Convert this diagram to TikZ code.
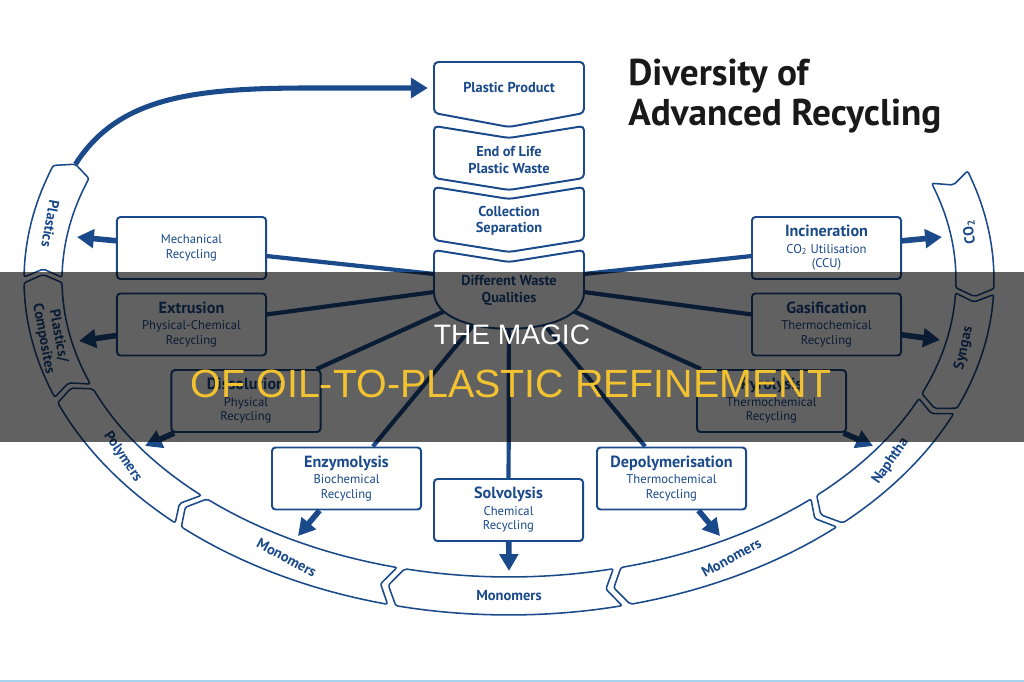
\documentclass[tikz,border=0pt]{standalone}
\usepackage{fontspec}
\setmainfont{PT Sans}
\newfontfamily\bannerfont{Liberation Sans}
\usetikzlibrary{arrows.meta}
\definecolor{recblue}{HTML}{1A4A8A}
\definecolor{bannergold}{HTML}{F2C230}
\definecolor{edgeblue}{HTML}{A8D3EE}
\newcommand{\proctitle}[1]{{\fontsize{11.5}{13}\selectfont\bfseries #1}\\[1pt]}

\begin{document}
\begin{tikzpicture}[x=0.025cm, y=-0.025cm,
    procbox/.style={draw=recblue, line width=1.4pt, fill=white, rounded corners=2.5pt,
      minimum width=3.725cm, minimum height=1.55cm, align=center, text=recblue,
      inner sep=1pt, font=\fontsize{9}{10.5}\selectfont},
    chev/.style={draw=recblue, line width=1.4pt, fill=white, rounded corners=3pt},
    chevtext/.style={text=recblue, align=center, minimum width=3.75cm, inner sep=0pt,
      font=\fontsize{10.2}{11.6}\selectfont\bfseries},
    ringseg/.style={draw=recblue, line width=1.1pt, fill=white, rounded corners=1.5pt},
    ringlabel/.style={text=recblue, align=center, inner sep=0pt,
      font=\fontsize{10.3}{10.8}\selectfont\bfseries},
    link/.style={recblue, line width=3pt},
    outarrow/.style={recblue, line width=4pt, -{Triangle[length=12pt,width=13pt]}},
]
    \useasboundingbox (0,0) rectangle (1024,682);

    % Title
    \node[anchor=north west, align=left, inner sep=0pt, text=black!90,
      font=\fontsize{26.5}{28}\selectfont\bfseries] (title) at (628,59)
      {Diversity of\\Advanced Recycling};

    % Recycling routes
    \node[procbox] (mech) at (191.5,248) {Mechanical\\Recycling};
    \node[procbox] (extr) at (191.5,324.5) {\proctitle{Extrusion}Physical-Chemical\\Recycling};
    \node[procbox] (diss) at (246,401) {\proctitle{Dissolution}Physical\\Recycling};
    \node[procbox] (enzy) at (346.5,478.5) {\proctitle{Enzymolysis}Biochemical\\Recycling};
    \node[procbox] (solv) at (508.5,510) {\proctitle{Solvolysis}Chemical\\Recycling};
    \node[procbox] (depo) at (671.5,478.5) {\proctitle{Depolymerisation}Thermochemical\\Recycling};
    \node[procbox] (pyro) at (771.5,401) {\proctitle{Pyrolysis}Thermochemical\\Recycling};
    \node[procbox] (gasi) at (826.5,324.5) {\proctitle{Gasification}Thermochemical\\Recycling};
    \node[procbox] (inci) at (826.5,248) {\proctitle{Incineration}CO\textsubscript{2} Utilisation\\(CCU)};

    % Spokes from the waste pool
    \coordinate (hub) at (509,282);
    \foreach \b in {mech,extr,diss,enzy,solv,depo,pyro,gasi,inci}
        \draw[link] (hub) -- (\b);

    % Central column
    \draw[chev] (434,62) -- (584,62) -- (584,113) -- (509,127) -- (434,113) -- cycle;
    \draw[chev] (434,126) -- (509,138) -- (584,126) -- (584,178) -- (509,190) -- (434,178) -- cycle;
    \draw[chev] (434,187) -- (509,199) -- (584,187) -- (584,240) -- (509,252) -- (434,240) -- cycle;
    \draw[chev] (434,250) -- (509,262) -- (584,250) -- (584,288)
        .. controls (584,341) and (434,341) .. (434,288) -- cycle;
    \node[chevtext] (prod) at (509,88) {Plastic Product};
    \node[chevtext] (eol) at (509,160) {End of Life\\Plastic Waste};
    \node[chevtext] (coll) at (509,221) {Collection\\Separation};
    \node[chevtext] (waste) at (509,290.5) {Different Waste\\Qualities};

    % Outer ring of products
    \foreach \ta/\tb/\lab [count=\i] in {-19/1.5/{CO\textsubscript{2}}, 2.5/22.5/Syngas,
        23.5/46.5/Naphtha, 47.5/75.5/Monomers, 76.5/103.5/Monomers, 104.5/132.5/Monomers,
        133.5/158.5/Polymers, 159.5/179.5/{Plastics/\\Composites}, 180.5/200/Plastics} {
        \pgfmathsetmacro\tm{(\ta+\tb)/2}
        \pgfmathsetmacro\rot{90-\tm}
        \draw[ringseg] plot[domain=\ta:\tb, samples=16, variable=\t] ({509+485*cos(\t)},{280+335*sin(\t)})
            -- ({509+466*cos(\tb+1.5)},{280+316*sin(\tb+1.5)})
            -- plot[domain=\tb:\ta, samples=16, variable=\t] ({509+447*cos(\t)},{280+297*sin(\t)})
            -- ({509+466*cos(\ta+1.5)},{280+316*sin(\ta+1.5)}) -- cycle;
        \node[ringlabel, rotate=\rot] (ring\i) at ({509+466*cos(\tm)},{280+316*sin(\tm)}) {\lab};
    }

    % Arrow targets on the ring
    \coordinate (tPlast) at (77,237);
    \coordinate (tComp) at (79,341);
    \coordinate (tPoly) at (145,446);
    \coordinate (tMonoL) at (298,536);
    \coordinate (tMonoB) at (509,571);
    \coordinate (tMonoR) at (720,536);
    \coordinate (tNaph) at (873,446);
    \coordinate (tSyn) at (940,340);
    \coordinate (tCO) at (942,237);

    \draw[outarrow] (mech) -- (tPlast);
    \draw[outarrow] (extr) -- (tComp);
    \draw[outarrow] (diss) -- (tPoly);
    \draw[outarrow] (enzy) -- (tMonoL);
    \draw[outarrow] (solv) -- (tMonoB);
    \draw[outarrow] (depo) -- (tMonoR);
    \draw[outarrow] (pyro) -- (tNaph);
    \draw[outarrow] (gasi) -- (tSyn);
    \draw[outarrow] (inci) -- (tCO);

    % Back to the product
    \coordinate (plTop) at ({509+466*cos(201.5)},{280+316*sin(201.5)});
    \draw[recblue, line width=3.6pt, -{Triangle[length=12pt,width=14pt]}]
        (plTop) .. controls (118,98) and (190,88) .. (310,88) -- ([xshift=-4.2pt]prod.west);

    % Banner
    \fill[black, opacity=0.62] (0,272) rectangle (1024,442);
    \node[text=white, font=\bannerfont\fontsize{20}{22}\selectfont] (magic) at (512,335) {THE MAGIC};
    \node[text=bannergold, font=\bannerfont\fontsize{28}{30}\selectfont] (refine) at (511,384)
        {OF OIL-TO-PLASTIC REFINEMENT};

    \draw[edgeblue, line width=0.8pt] (0,681) -- (1024,681);
\end{tikzpicture}
\end{document}
